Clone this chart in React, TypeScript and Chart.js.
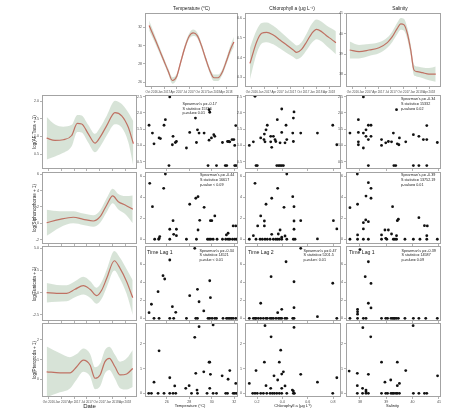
import React, { useEffect, useRef } from "react";
import { Chart, registerables } from "chart.js";
Chart.register(...registerables);

const FONT = "'Liberation Sans', Arial, sans-serif";

// ---------------- data ----------------
// months since Oct 2016
const dateTicks = [0, 3, 6, 9, 12, 15, 18];
const dateLabels = ["Oct 2016", "Jan 2017", "Apr 2017", "Jul 2017", "Oct 2017", "Jan 2018", "Apr 2018"];

// environmental smooths (top row)
const tempM = [-0.6, 1, 2, 3, 4, 5, 6, 7, 8, 9, 10, 11, 12, 13, 14, 15, 16, 17, 18, 19, 19.8];
const tempV = [32.2, 30.5, 29.4, 28.3, 27.2, 26.2, 26.6, 28.2, 29.8, 31.0, 31.4, 31.1, 30.0, 28.6, 27.3, 26.5, 26.5, 27.1, 28.3, 29.6, 30.4];
const tempH = [0.55, 0.4, 0.35, 0.3, 0.3, 0.35, 0.3, 0.3, 0.3, 0.3, 0.35, 0.3, 0.3, 0.3, 0.3, 0.35, 0.35, 0.3, 0.35, 0.45, 0.55];

const chlM = [-0.43, 1.13, 2.29, 3.46, 5.0, 6.57, 8.13, 9.67, 10.46, 11.6, 12.8, 14.0, 15.1, 16.3, 17.5, 18.6, 19.6];
const chlV = [0.371, 0.481, 0.524, 0.529, 0.515, 0.49, 0.464, 0.439, 0.427, 0.442, 0.481, 0.524, 0.544, 0.532, 0.51, 0.493, 0.476];
const chlH = [0.08, 0.06, 0.052, 0.05, 0.047, 0.044, 0.04, 0.036, 0.035, 0.037, 0.042, 0.048, 0.05, 0.05, 0.052, 0.055, 0.058];

const salM = [-0.73, 1.47, 3.82, 6.18, 8.14, 9.32, 10.5, 11.3, 12.1, 12.85, 13.66, 14.43, 15.21, 16.4, 17.97, 19.55];
const salV = [39.2, 39.12, 39.2, 39.31, 39.56, 39.85, 40.26, 40.48, 40.43, 40.02, 39.2, 38.22, 38.14, 38.09, 38.02, 38.02];
const salH = [0.42, 0.33, 0.29, 0.27, 0.25, 0.26, 0.28, 0.29, 0.29, 0.28, 0.27, 0.26, 0.25, 0.26, 0.3, 0.37];

// zooplankton smooths (left column)
const afM = [-0.49, 1.47, 3.42, 5.4, 6.72, 7.76, 9.32, 10.9, 12.1, 13.66, 15.6, 17.2, 18.75, 19.93];
const afV = [0.953, 0.889, 0.908, 1.028, 1.369, 1.353, 1.075, 0.814, 0.981, 1.306, 1.675, 1.583, 1.258, 0.797];
const afH = [0.6, 0.45, 0.37, 0.3, 0.24, 0.24, 0.25, 0.26, 0.27, 0.28, 0.33, 0.33, 0.42, 0.63];

const sipM = [-0.49, 2.64, 5.78, 8.14, 10.5, 12.1, 13.66, 15.07, 16.4, 18.0, 19.79];
const sipV = [0.07, 0.49, 0.74, 0.49, 0.28, 0.81, 2.24, 3.35, 2.65, 2.24, 1.72];
const sipH = [1.6, 1.0, 0.75, 0.7, 0.7, 0.75, 0.85, 0.9, 0.95, 1.1, 1.7];

const tunM = [-0.49, 1.87, 4.22, 6.18, 8.14, 9.72, 11.3, 12.5, 13.66, 15.45, 16.8, 18.37, 19.79];
const tunV = [0.0, -0.07, -0.07, 0.38, 0.79, 0.38, -0.34, 0.3, 1.62, 3.6, 2.74, 1.24, -0.56];
const tunH = [1.1, 0.95, 0.9, 0.9, 1.0, 0.95, 0.9, 0.95, 1.0, 1.1, 1.2, 1.4, 1.95];

const pteM = [-0.49, 2.64, 5.0, 6.58, 8.14, 9.72, 10.9, 12.1, 13.25, 14.27, 15.6, 16.8, 18.37, 19.79];
const pteV = [0.37, 0.32, 0.32, 0.63, 0.97, 0.72, 0.04, 0.21, 0.89, 1.06, 0.63, 0.21, 0.26, 0.54];
const pteH = [1.3, 1.0, 0.8, 0.65, 0.6, 0.58, 0.56, 0.58, 0.6, 0.6, 0.62, 0.68, 0.8, 0.95];

// scatter data [x, y]
const afTemp = [[26.27,2.49],[24.43,1.62],[24.73,1.38],[24.87,1.05],[25.32,1.23],[25.44,1.21],[25.76,1.62],[25.88,1.79],[26.56,1.28],[26.5,1.02],[26.77,1.09],[26.86,1.12],[27.75,0.92],[28.04,1.4],[28.55,1.84],[28.64,1.09],[28.73,1.48],[28.87,1.38],[29.32,1.38],[29.76,2.1],[29.82,2.02],[29.76,1.16],[29.97,1.23],[30.18,1.33],[30.27,1.28],[30.95,1.09],[31.4,1.12],[31.51,1.12],[31.6,1.11],[31.8,1.18],[31.96,1.18],[32.04,1.0],[32.13,1.61],[26.2,0.38],[29.67,0.38],[30.42,0.38],[31.2,0.38],[31.33,0.38],[32.04,0.38],[32.16,0.38]];
const afChl = [[0.184,2.51],[0.395,2.12],[0.492,2.03],[0.487,1.84],[0.36,1.79],[0.429,1.62],[0.281,1.62],[0.271,1.48],[0.258,1.35],[0.229,1.23],[0.255,1.18],[0.263,1.11],[0.171,1.11],[0.139,1.0],[0.308,1.28],[0.329,1.28],[0.308,1.11],[0.342,1.18],[0.348,1.12],[0.316,0.94],[0.382,1.08],[0.395,1.4],[0.421,1.08],[0.435,1.18],[0.482,1.38],[0.487,1.12],[0.545,1.38],[0.677,1.38],[0.798,1.62],[0.83,1.02],[0.192,0.38],[0.202,0.38],[0.356,0.38],[0.37,0.38],[0.382,0.38],[0.395,0.38],[0.408,0.38]];
const afSal = [[38.13,2.49],[37.94,1.79],[38.32,1.62],[38.42,1.62],[38.23,1.48],[37.62,1.38],[37.94,1.4],[38.13,1.38],[38.23,1.28],[38.42,1.28],[37.94,1.11],[37.94,1.02],[38.13,0.92],[38.32,1.18],[38.82,1.18],[38.82,1.0],[38.98,1.08],[39.08,1.12],[39.2,1.11],[39.27,1.38],[39.39,2.1],[39.42,1.05],[39.48,1.02],[39.5,1.23],[39.74,1.11],[40.03,1.33],[40.24,1.28],[40.41,1.18],[40.54,1.18],[40.54,1.61],[40.94,1.09],[38.32,0.38],[39.29,0.38],[39.36,0.38],[40.03,0.38],[40.24,0.38],[40.54,0.38]];

const sipTemp = [[25.88,6.19],[24.49,5.31],[25.73,4.83],[24.73,3.09],[28.04,3.32],[28.58,3.89],[28.78,4.04],[29.32,3.03],[26.56,1.76],[29.88,1.76],[30.0,1.76],[30.27,2.21],[28.93,1.8],[28.78,0.88],[26.27,0.95],[26.86,0.95],[26.62,0.47],[26.86,0.34],[25.38,0.25],[31.3,0.41],[31.45,0.57],[31.9,1.26],[32.13,1.26],[25.32,0.09],[24.93,0],[25.29,0],[26.27,0],[27.75,0],[28.64,0],[29.62,0],[29.76,0],[29.91,0],[30.12,0],[30.47,0],[30.95,0],[31.24,0],[31.45,0],[31.6,0],[31.84,0],[32.04,0],[32.2,0]];
const sipChl = [[0.435,6.19],[0.184,5.31],[0.363,4.83],[0.316,3.89],[0.482,4.04],[0.271,3.32],[0.492,3.09],[0.413,3.03],[0.229,2.21],[0.258,1.73],[0.205,1.26],[0.258,1.26],[0.492,1.73],[0.545,1.76],[0.803,1.76],[0.83,0.98],[0.492,0.95],[0.382,0.88],[0.316,0.47],[0.368,0.5],[0.421,0.31],[0.395,0.19],[0.171,0.34],[0.677,0.03],[0.139,0],[0.192,0],[0.224,0],[0.242,0],[0.263,0],[0.281,0],[0.303,0],[0.329,0],[0.348,0],[0.361,0],[0.376,0],[0.395,0],[0.435,0],[0.487,0],[0.5,0]];
const sipSal = [[37.9,6.19],[38.32,5.37],[38.42,4.83],[38.23,4.1],[38.42,3.89],[37.91,3.32],[37.62,3.0],[39.24,3.09],[38.22,1.83],[38.32,1.67],[38.13,1.57],[39.46,1.9],[39.42,1.76],[40.24,2.05],[40.45,1.29],[40.56,1.26],[38.13,0.98],[38.95,0.88],[39.08,0.88],[38.82,0.41],[38.98,0.09],[39.2,0.5],[39.39,0.34],[37.91,0.41],[40.54,0.34],[37.62,0],[37.91,0],[38.13,0],[38.32,0],[38.82,0],[39.02,0],[39.27,0],[39.33,0],[39.39,0],[39.71,0],[40.03,0],[40.28,0],[40.54,0],[40.94,0]];

const tunTemp = [[28.49,7.73],[26.27,6.44],[25.67,4.71],[25.82,4.34],[25.23,2.94],[24.64,1.55],[24.43,0.62],[26.5,1.28],[26.8,0.66],[28.04,2.5],[28.73,3.2],[28.87,1.83],[29.29,0.81],[29.82,4.15],[29.88,2.28],[24.87,0],[25.32,0],[26.27,0],[26.62,0],[27.75,0],[28.58,0],[28.73,0],[29.67,0],[29.82,0],[30.03,0],[30.27,0],[30.42,0],[31.0,0],[31.31,0],[31.45,0],[31.6,0],[31.75,0],[31.9,0],[32.13,0]];
const tunChl = [[0.545,7.73],[0.429,6.25],[0.311,4.6],[0.492,4.04],[0.798,3.87],[0.229,1.66],[0.395,0.99],[0.492,1.17],[0.363,0.62],[0.677,0.18],[0.139,0],[0.171,0],[0.184,0],[0.192,0],[0.21,0],[0.229,0],[0.25,0],[0.271,0],[0.281,0],[0.303,0],[0.316,0],[0.329,0],[0.35,0],[0.369,0],[0.382,0],[0.395,0],[0.421,0],[0.435,0],[0.482,0],[0.492,0],[0.83,0]];
const tunSal = [[38.0,7.6],[38.32,6.25],[38.2,4.6],[38.42,3.85],[38.32,1.66],[38.42,1.14],[37.91,0.99],[37.91,0.72],[37.91,0.45],[37.62,0],[37.91,0],[38.13,0],[38.23,0],[38.82,0],[38.98,0],[39.05,0],[39.18,0],[39.24,0],[39.29,0],[39.33,0],[39.39,0],[39.46,0],[39.71,0],[40.03,0],[40.24,0],[40.5,0],[40.94,0]];

const pteTemp = [[28.87,2.7],[30.12,2.77],[28.49,2.27],[25.32,1.72],[29.76,1.26],[29.82,1.26],[31.6,0.92],[29.29,0.87],[28.58,0.81],[30.92,0.71],[29.88,0.77],[31.45,0.57],[26.27,0.63],[24.87,0.45],[26.71,0.3],[27.99,0.31],[27.69,0.2],[28.69,0.13],[29.82,0.2],[32.13,0.4],[24.4,0],[24.64,0],[25.23,0],[25.76,0],[26.27,0],[26.56,0],[26.8,0],[28.2,0],[28.73,0],[29.58,0],[30.12,0],[30.42,0],[31.24,0],[31.4,0],[31.9,0],[32.04,0],[32.2,0]];
const pteChl = [[0.263,2.74],[0.492,2.67],[0.311,2.29],[0.387,1.75],[0.258,1.26],[0.376,1.26],[0.192,0.92],[0.408,0.87],[0.395,0.78],[0.545,0.77],[0.334,0.71],[0.83,0.63],[0.363,0.54],[0.677,0.45],[0.139,0.4],[0.271,0.31],[0.421,0.3],[0.308,0.2],[0.395,0.2],[0.479,0.13],[0.487,0.09],[0.166,0],[0.184,0],[0.202,0],[0.229,0],[0.25,0],[0.277,0],[0.303,0],[0.321,0],[0.337,0],[0.356,0],[0.376,0],[0.395,0],[0.435,0],[0.487,0],[0.495,0],[0.798,0]];
const pteSal = [[38.11,2.66],[40.02,2.74],[38.41,2.29],[38.82,1.26],[39.42,1.26],[37.59,0.9],[39.74,0.92],[38.32,0.77],[37.9,0.81],[40.95,0.71],[39.17,0.54],[38.95,0.45],[39.5,0.4],[39.42,0.31],[37.9,0.31],[38.1,0.2],[38.23,0.13],[38.23,0.06],[37.9,0],[38.1,0],[38.23,0],[38.32,0],[38.82,0],[38.98,0],[39.05,0],[39.18,0],[39.24,0],[39.29,0],[39.37,0],[39.42,0],[39.5,0],[40.03,0],[40.24,0],[40.45,0],[40.54,0]];

// tick values / labels
const tempTicks = [26, 28, 30, 32];
const tempTickLabels = ["26", "28", "30", "32"];
const chlTopTicks = [0.3, 0.4, 0.5, 0.6];
const chlTopLabels = ["0.3", "0.4", "0.5", "0.6"];
const salTicks = [38, 39, 40, 41];
const salTickLabels = ["38", "39", "40", "41"];
const chlTicks = [0.2, 0.4, 0.6, 0.8];
const chlTickLabels = ["0.2", "0.4", "0.6", "0.8"];

// ---------------- layout ----------------
const PADL = 24, PADT = 5, PADR = 5, PADB = 12;
const LINE_RED = "rgb(214,60,56)";
const BAND = "rgba(160,188,160,0.42)";

const boxPlugin = {
  id: "panelBox",
  afterDraw(chart: any) {
    const { ctx, chartArea: a } = chart;
    ctx.save();
    ctx.strokeStyle = "#a3a3a3";
    ctx.lineWidth = 1;
    ctx.strokeRect(Math.round(a.left) + 0.5, Math.round(a.top) + 0.5, Math.round(a.right - a.left) - 1, Math.round(a.bottom - a.top) - 1);
    ctx.restore();
  },
};

function axis(min: number, max: number, ticks: number[], labels: string[] | null, size: number, isY: boolean) {
  return {
    type: "linear",
    min,
    max,
    afterBuildTicks: (s: any) => {
      s.ticks = ticks.map((v) => ({ value: v }));
    },
    afterFit: (s: any) => {
      if (isY) s.width = PADL;
      else s.height = PADB;
    },
    ticks: {
      autoSkip: false,
      maxRotation: 0,
      minRotation: 0,
      padding: 1,
      color: "#4d4d4d",
      font: { size, family: FONT },
      callback: (_v: any, i: number) => (labels ? labels[i] : ""),
    },
    grid: { drawOnChartArea: false, drawTicks: true, tickLength: 2, color: "#808080", lineWidth: 0.6 },
    border: { display: false },
  };
}

type Spec = {
  box: number[];
  xr: number[];
  yr: number[];
  xt: number[];
  xl: string[] | null;
  yt: number[];
  yl: string[] | null;
  xs: number;
  ys: number;
  smooth?: { m: number[]; v: number[]; h: number[] };
  pts?: number[][];
};

function Panel({ spec }: { spec: Spec }) {
  const ref = useRef<HTMLCanvasElement>(null);
  const [l, t, r, b] = spec.box;
  const w = r - l + PADL + PADR;
  const h = b - t + PADT + PADB;
  useEffect(() => {
    let datasets: any[] = [];
    let type: any = "scatter";
    if (spec.smooth) {
      type = "line";
      const { m, v, h: hw } = spec.smooth;
      const common = { pointRadius: 0, cubicInterpolationMode: "monotone" };
      datasets = [
        { ...common, data: m.map((x, i) => ({ x, y: v[i] + hw[i] })), borderColor: "transparent", borderWidth: 0, fill: false },
        { ...common, data: m.map((x, i) => ({ x, y: v[i] - hw[i] })), borderColor: "transparent", borderWidth: 0, fill: "-1", backgroundColor: BAND },
        { ...common, data: m.map((x, i) => ({ x, y: v[i] })), borderColor: LINE_RED, borderWidth: 1.2, fill: false },
      ];
    } else if (spec.pts) {
      datasets = [
        {
          data: spec.pts.map(([x, y]) => ({ x, y })),
          pointRadius: 1.4,
          pointBackgroundColor: "#111",
          pointBorderWidth: 0,
          showLine: false,
          clip: 3,
        },
      ];
    }
    const chart = new Chart(ref.current as HTMLCanvasElement, {
      type,
      data: { datasets },
      options: {
        responsive: false,
        animation: false,
        devicePixelRatio: 1,
        layout: { padding: { left: 0, top: PADT, right: PADR, bottom: 0 } },
        plugins: { legend: { display: false }, tooltip: { enabled: false }, title: { display: false } },
        scales: {
          x: axis(spec.xr[0], spec.xr[1], spec.xt, spec.xl, spec.xs, false) as any,
          y: axis(spec.yr[0], spec.yr[1], spec.yt, spec.yl, spec.ys, true) as any,
        },
      } as any,
      plugins: [boxPlugin],
    });
    return () => chart.destroy();
  }, []);
  return (
    <canvas
      ref={ref}
      width={w}
      height={h}
      style={{ position: "absolute", left: l - PADL, top: t - PADT, width: w, height: h }}
    />
  );
}

const DATE_X = [-1.6, 20.8];
const rowsBox = [[95, 169], [172, 244], [246, 321], [323, 397]];
const colsBox = [[145, 238], [245, 341], [346, 441]];
const leftBox = [42, 137];

const leftSeries = [
  { m: afM, v: afV, h: afH, yr: [0.083, 2.17], yt: [0.5, 1, 1.5, 2], yl: ["0.5", "1.0", "1.5", "2.0"] },
  { m: sipM, v: sipV, h: sipH, yr: [-2.54, 6.29], yt: [-2, 0, 2, 4, 6], yl: ["-2", "0", "2", "4", "6"] },
  { m: tunM, v: tunV, h: tunH, yr: [-3.19, 5.26], yt: [-2.5, 0, 2.5, 5], yl: ["-2.5", "0.0", "2.5", "5.0"] },
  { m: pteM, v: pteV, h: pteH, yr: [-0.92, 2.87], yt: [0, 1, 2], yl: ["0", "1", "2"] },
];
const scatterRows = [
  { yr: [0.275, 2.55], yt: [0.5, 1, 1.5, 2, 2.5], yl: ["0.5", "1.0", "1.5", "2.0", "2.5"], pts: [afTemp, afChl, afSal] },
  { yr: [-0.45, 6.38], yt: [0, 2, 4, 6], yl: ["0", "2", "4", "6"], pts: [sipTemp, sipChl, sipSal] },
  { yr: [-0.3, 7.99], yt: [0, 2, 4, 6], yl: ["0", "2", "4", "6"], pts: [tunTemp, tunChl, tunSal] },
  { yr: [-0.15, 2.85], yt: [0, 1, 2], yl: ["0", "1", "2"], pts: [pteTemp, pteChl, pteSal] },
];
const scatterCols = [
  { xr: [24.07, 32.33], xt: tempTicks, xl: tempTickLabels },
  { xr: [0.105, 0.863], xt: chlTicks, xl: chlTickLabels },
  { xr: [37.47, 41.08], xt: salTicks, xl: salTickLabels },
];

function buildSpecs(): Spec[] {
  const specs: Spec[] = [];
  const top = [13, 87];
  const tops = [
    { m: tempM, v: tempV, h: tempH, yr: [25.49, 33.56], yt: tempTicks, yl: tempTickLabels },
    { m: chlM, v: chlV, h: chlH, yr: [0.251, 0.627], yt: chlTopTicks, yl: chlTopLabels },
    { m: salM, v: salV, h: salH, yr: [37.39, 41.01], yt: salTicks, yl: salTickLabels },
  ];
  tops.forEach((s, c) => {
    specs.push({
      box: [colsBox[c][0], top[0], colsBox[c][1], top[1]],
      xr: DATE_X, yr: s.yr, xt: dateTicks, xl: dateLabels, yt: s.yt, yl: s.yl, xs: 3, ys: 3.4,
      smooth: { m: s.m, v: s.v, h: s.h },
    });
  });
  leftSeries.forEach((s, r) => {
    specs.push({
      box: [leftBox[0], rowsBox[r][0], leftBox[1], rowsBox[r][1]],
      xr: DATE_X, yr: s.yr, xt: dateTicks, xl: r === 3 ? dateLabels : null, yt: s.yt, yl: s.yl, xs: 3, ys: 3.6,
      smooth: { m: s.m, v: s.v, h: s.h },
    });
  });
  scatterRows.forEach((row, r) => {
    scatterCols.forEach((col, c) => {
      specs.push({
        box: [colsBox[c][0], rowsBox[r][0], colsBox[c][1], rowsBox[r][1]],
        xr: col.xr, yr: row.yr, xt: col.xt, xl: r === 3 ? col.xl : null, yt: row.yt, yl: row.yl, xs: 3.6, ys: 3.6,
        pts: row.pts[c],
      });
    });
  });
  return specs;
}

type Lbl = { t: string; x: number; y: number; s: number; a?: "l" | "c"; rot?: boolean; c?: string };
const texts: Lbl[] = [
  { t: "Temperature (°C)", x: 191.5, y: 8.5, s: 4.8 },
  { t: "Chlorophyll a (μg L⁻¹)", x: 292, y: 8.5, s: 4.8 },
  { t: "Salinity", x: 400, y: 8.5, s: 4.8 },
  { t: "log(AF Taxa + 1)", x: 34.5, y: 132, s: 4.6, rot: true },
  { t: "log(Siphonophorae + 1)", x: 34.5, y: 208, s: 4.6, rot: true },
  { t: "log(Tunicata + 1)", x: 34.5, y: 283.5, s: 4.6, rot: true },
  { t: "log(Pteropoda + 1)", x: 34.5, y: 360, s: 4.6, rot: true },
  { t: "Date", x: 89.5, y: 405.5, s: 6 },
  { t: "Temperature (°C)", x: 190, y: 405.5, s: 4 },
  { t: "Chlorophyll a (μg L⁻¹)", x: 293, y: 405.5, s: 4 },
  { t: "Salinity", x: 392.5, y: 405.5, s: 4 },
  { t: "Spearman's ρ= -0.17", x: 182.5, y: 105, s: 3.7, a: "l" },
  { t: "S statistic= 15746", x: 182.5, y: 109.5, s: 3.7, a: "l" },
  { t: "p-value= 0.01", x: 182.5, y: 114, s: 3.7, a: "l" },
  { t: "Spearman's ρ= -0.34", x: 401, y: 100, s: 3.7, a: "l" },
  { t: "S statistic= 15332", x: 401, y: 105, s: 3.7, a: "l" },
  { t: "p-value= 0.02", x: 401, y: 110, s: 3.7, a: "l" },
  { t: "Spearman's ρ= -0.44", x: 200, y: 175.5, s: 3.7, a: "l" },
  { t: "S statistic= 16617", x: 200, y: 180.5, s: 3.7, a: "l" },
  { t: "p-value < 0.09", x: 200, y: 185.5, s: 3.7, a: "l" },
  { t: "Spearman's ρ= -0.39", x: 401, y: 175.5, s: 3.7, a: "l" },
  { t: "S statistic= 13752.19", x: 401, y: 180.5, s: 3.7, a: "l" },
  { t: "p-value= 0.01", x: 401, y: 185.5, s: 3.7, a: "l" },
  { t: "Time Lag 1", x: 147, y: 253, s: 5.2, a: "l" },
  { t: "Spearman's ρ= -0.34", x: 199.5, y: 251.5, s: 3.7, a: "l" },
  { t: "S statistic= 14521", x: 199.5, y: 256, s: 3.7, a: "l" },
  { t: "p-value < 0.01", x: 199.5, y: 260.5, s: 3.7, a: "l" },
  { t: "Time Lag 2", x: 248, y: 253, s: 5.2, a: "l" },
  { t: "Spearman's ρ= 0.47", x: 303.5, y: 251.5, s: 3.7, a: "l" },
  { t: "S statistic= 5201.5", x: 303.5, y: 256, s: 3.7, a: "l" },
  { t: "p-value< 0.01", x: 303.5, y: 260.5, s: 3.7, a: "l" },
  { t: "Time Lag 1", x: 349, y: 253, s: 5.2, a: "l" },
  { t: "Spearman's ρ= -0.39", x: 401.5, y: 251.5, s: 3.7, a: "l" },
  { t: "S statistic= 14587", x: 401.5, y: 256, s: 3.7, a: "l" },
  { t: "p-value= 0.09", x: 401.5, y: 260.5, s: 3.7, a: "l" },
];

export default function App() {
  const specs = buildSpecs();
  return (
    <div style={{ position: "absolute", left: 0, top: 0, width: 474, height: 418, background: "#fff", overflow: "hidden", fontFamily: FONT }}>
      {specs.map((s, i) => (
        <Panel key={i} spec={s} />
      ))}
      {texts.map((t, i) => (
        <div
          key={"t" + i}
          style={{
            position: "absolute",
            left: t.x,
            top: t.y,
            fontSize: t.s,
            lineHeight: 1,
            whiteSpace: "nowrap",
            color: t.c || "#1a1a1a",
            transform: t.rot
              ? "translate(-50%,-50%) rotate(-90deg)"
              : t.a === "l"
              ? "translate(0,-50%)"
              : "translate(-50%,-50%)",
          }}
        >
          {t.t}
        </div>
      ))}
    </div>
  );
}
